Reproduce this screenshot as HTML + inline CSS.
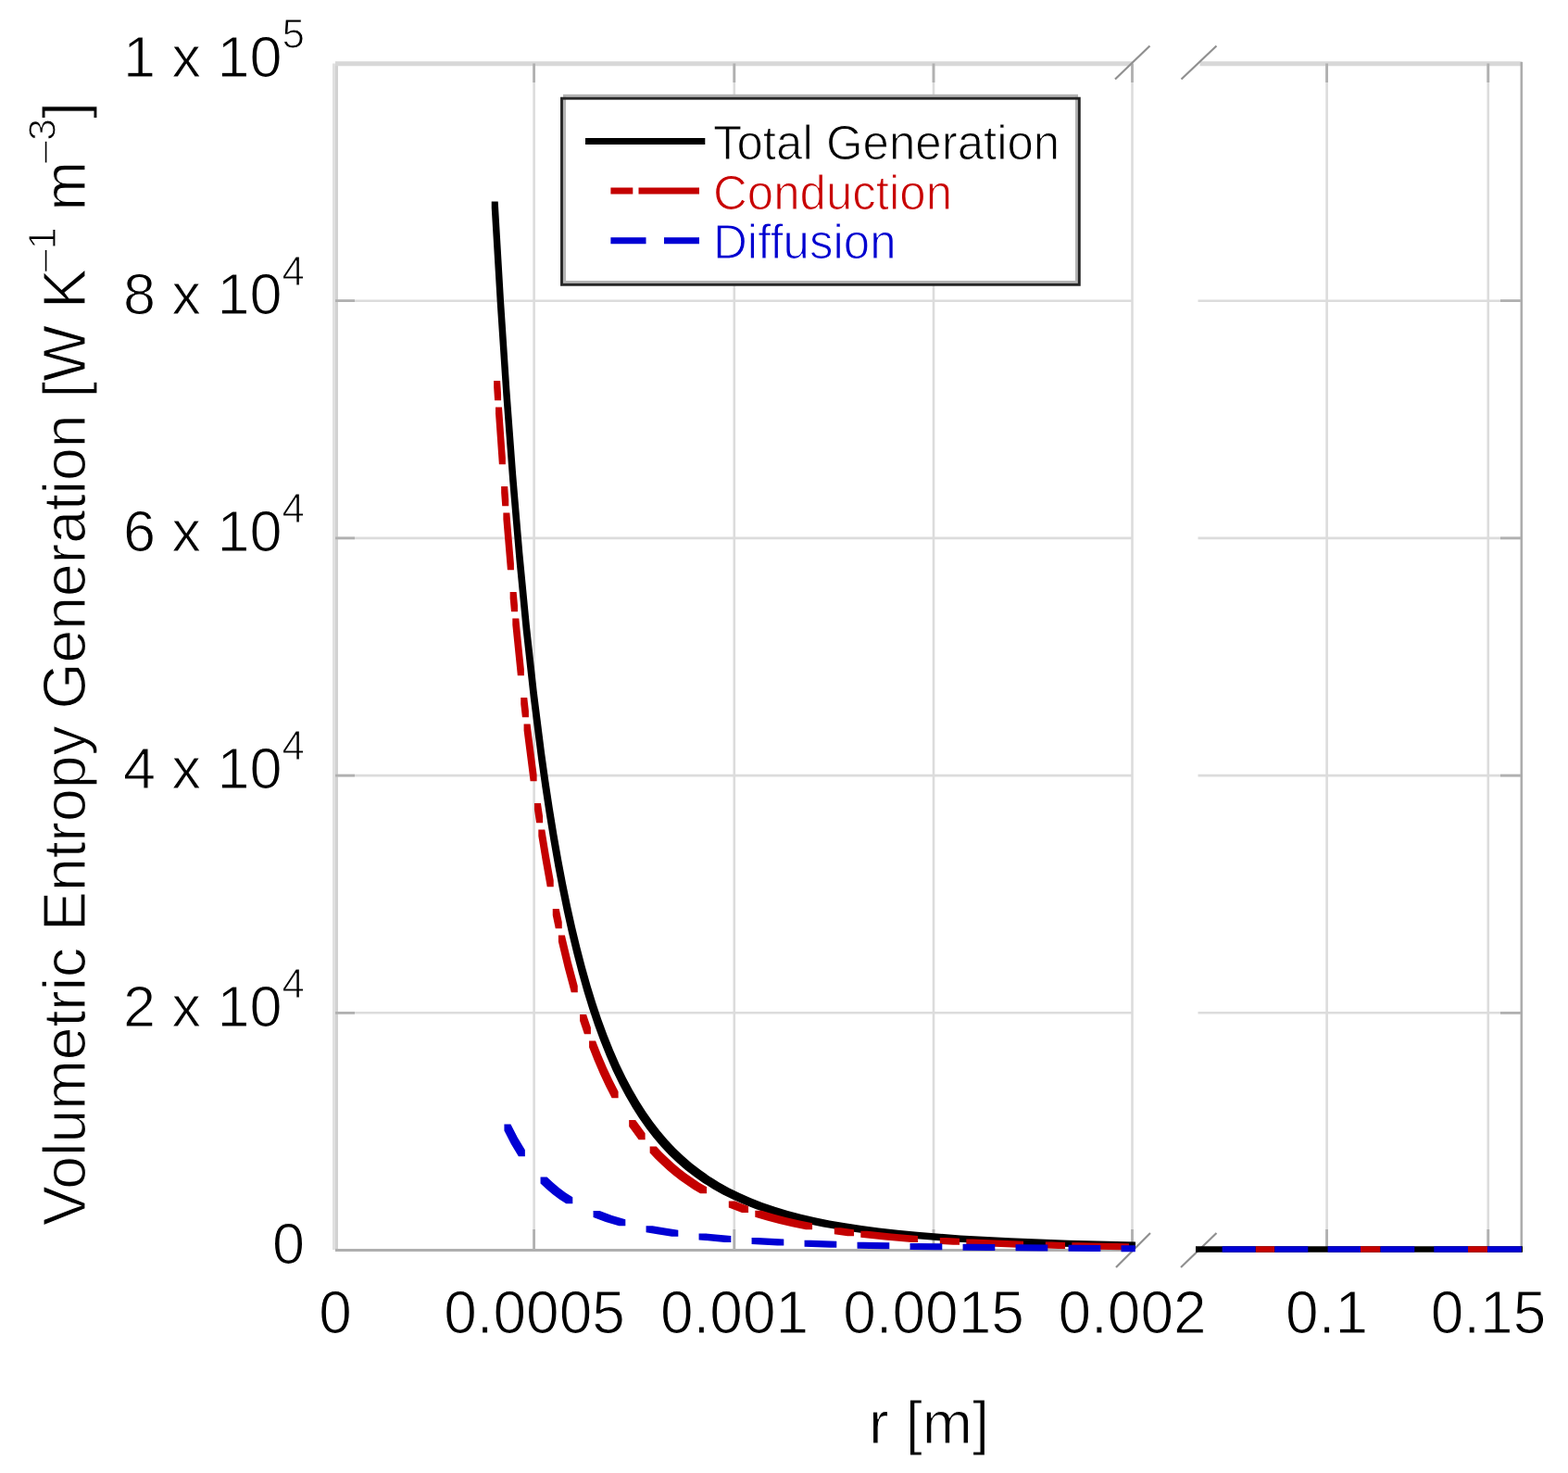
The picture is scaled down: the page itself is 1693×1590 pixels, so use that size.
<!DOCTYPE html>
<html><head><meta charset="utf-8"><title>Volumetric Entropy Generation</title>
<style>
html,body{margin:0;padding:0;background:#fff;}
body{width:1693px;height:1590px;overflow:hidden;}
svg{display:block;}
text{font-family:"Liberation Sans",Arial,Helvetica,sans-serif;fill:#000;stroke:#fff;stroke-width:1.1px;}
</style></head>
<body>
<svg width="1693" height="1590" viewBox="0 0 1693 1590">
<rect width="1693" height="1590" fill="#fff"/>
<!-- gridlines -->
<g stroke="#dcdcdc" stroke-width="2.6" fill="none">
<path d="M362,324.7H1222.5M362,580.9H1222.5M362,837.1H1222.5M362,1093.3H1222.5"/>
<path d="M1293.5,324.7H1643M1293.5,580.9H1643M1293.5,837.1H1643M1293.5,1093.3H1643"/>
<path d="M576.6,68.5V1349M792.8,68.5V1349M1008,68.5V1349M1222.5,68.5V1349"/>
<path d="M1432.6,68.5V1349M1606.8,68.5V1349"/>
</g>
<!-- frame -->
<path d="M360.5,68.5V1349" stroke="#e0e0e0" stroke-width="3" fill="none"/>
<path d="M363.5,68.5V1349" stroke="#d2d2d2" stroke-width="3" fill="none"/>
<path d="M362,68.8H1222.5M1295.5,68.8H1643.5" stroke="#d8d8d8" stroke-width="5" fill="none"/>
<path d="M362,1349.5H1222.5" stroke="#afafaf" stroke-width="3" fill="none"/>
<path d="M1642.8,67V1349" stroke="#acacac" stroke-width="2.6" fill="none"/>
<!-- ticks -->
<g stroke="#b0b0b0" stroke-width="2.8" fill="none">
<path d="M362,324.7H383M362,580.9H383M362,837.1H383M362,1093.3H383"/>
<path d="M1642,324.7H1620M1642,580.9H1620M1642,837.1H1620M1642,1093.3H1620"/>
<path d="M576.6,1349V1327M792.8,1349V1327M1008,1349V1327M1222.5,1349V1327M1432.6,1349V1327M1606.8,1349V1327"/>
<path d="M576.6,68.5V89M792.8,68.5V89M1008,68.5V89M1222.5,68.5V89M1432.6,68.5V89M1606.8,68.5V89"/>
</g>
<!-- break marks -->
<g stroke="#909090" stroke-width="2.2" fill="none">
<path d="M1204,85.5L1241.5,49.5M1275.5,85.5L1313.5,49.5"/>
<path d="M1205,1368L1242,1331M1275,1368L1313.5,1331"/>
</g>
<!-- curves -->
<path d="M530.73,224.50 530.73,217.50 537.73,217.50 543.94,323.19 550.37,420.59 557.24,512.70 564.37,596.93 571.76,673.75 579.65,745.59 588.09,812.38 592.43,843.23 596.85,872.49 601.37,900.22 606.23,927.90 610.92,952.68 615.98,977.39 621.14,1000.68 626.40,1022.61 631.78,1043.26 637.55,1063.68 643.16,1081.89 649.18,1099.88 655.34,1116.72 661.94,1133.24 668.70,1148.64 675.61,1162.99 682.68,1176.35 690.26,1189.35 697.30,1200.34 704.86,1211.08 712.60,1221.07 720.89,1230.77 729.38,1239.74 738.08,1248.04 746.98,1255.70 756.51,1263.09 766.28,1269.89 776.74,1276.41 787.47,1282.38 798.94,1288.06 810.73,1293.24 823.33,1298.14 836.79,1302.75 850.64,1306.92 864.90,1310.69 880.14,1314.21 895.84,1317.38 912.60,1320.33 930.50,1323.05 948.99,1325.48 969.38,1327.79 990.47,1329.83 1037.07,1333.38 1091.01,1336.30 1153.51,1338.66 1226.00,1340.52 1226.00,1347.52 1219.00,1347.52 1146.51,1345.66 1084.01,1343.30 1030.07,1340.38 983.47,1336.83 962.38,1334.79 941.99,1332.48 923.50,1330.05 905.60,1327.33 888.84,1324.38 873.14,1321.21 857.90,1317.69 843.64,1313.92 829.79,1309.75 816.33,1305.14 803.73,1300.24 791.94,1295.06 780.47,1289.38 769.74,1283.41 759.28,1276.89 749.51,1270.09 739.98,1262.70 731.08,1255.04 722.38,1246.74 713.89,1237.77 705.60,1228.07 697.86,1218.08 690.30,1207.34 683.26,1196.35 675.68,1183.35 668.61,1169.99 661.70,1155.64 654.94,1140.24 648.34,1123.72 642.18,1106.88 636.16,1088.89 630.55,1070.68 624.78,1050.26 619.40,1029.61 614.14,1007.68 608.98,984.39 603.92,959.68 599.23,934.90 594.37,907.22 589.85,879.49 585.43,850.23 581.09,819.38 572.65,752.59 564.76,680.75 557.37,603.93 550.24,519.70 543.37,427.59 536.94,330.19 530.73,224.50Z" fill="#000"/>
<path d="M533.13,418.00 533.13,411.00 540.13,411.00 541.07,425.25 541.07,432.25 534.07,432.25 533.13,418.00ZM535.02,446.50 535.02,439.50 542.02,439.50 545.86,494.25 545.86,501.25 538.86,501.25 535.02,446.50ZM541.15,532.00 541.15,525.00 548.15,525.00 549.24,539.25 549.24,546.25 542.24,546.25 541.15,532.00ZM543.36,560.50 543.36,553.50 550.36,553.50 554.91,608.25 554.91,615.25 547.91,615.25 543.36,560.50ZM550.65,646.00 550.65,639.00 557.65,639.00 558.97,653.25 558.97,660.25 551.97,660.25 550.65,646.00ZM553.32,674.50 553.32,667.50 560.32,667.50 565.86,722.25 565.86,729.25 558.86,729.25 553.32,674.50ZM562.25,760.00 562.25,753.00 569.25,753.00 570.89,767.25 570.89,774.25 563.89,774.25 562.25,760.00ZM565.58,788.50 565.58,781.50 572.58,781.50 579.60,836.25 579.60,843.25 572.60,843.25 565.58,788.50ZM576.96,874.00 576.96,867.00 583.96,867.00 586.10,881.25 586.10,888.25 579.10,888.25 576.96,874.00ZM581.32,902.50 581.32,895.50 588.32,895.50 592.86,923.00 597.73,950.25 597.73,957.25 590.73,957.25 585.86,930.00 581.32,902.50ZM596.75,988.00 596.75,981.00 603.75,981.00 606.75,995.25 606.75,1002.25 599.75,1002.25 596.75,988.00ZM602.91,1016.50 602.91,1009.50 609.91,1009.50 616.74,1038.00 623.76,1064.25 623.76,1071.25 616.76,1071.25 609.74,1045.00 602.91,1016.50ZM626.09,1102.00 626.09,1095.00 633.09,1095.00 637.90,1109.25 637.90,1116.25 630.90,1116.25 626.09,1102.00ZM636.08,1130.50 636.08,1123.50 643.08,1123.50 648.89,1138.25 655.00,1152.50 661.21,1165.75 667.60,1178.25 667.60,1185.25 660.60,1185.25 654.21,1172.75 648.00,1159.50 641.89,1145.25 636.08,1130.50ZM679.17,1216.00 679.17,1209.00 686.17,1209.00 696.61,1223.25 696.61,1230.25 689.61,1230.25 679.17,1216.00ZM701.66,1244.50 701.66,1237.50 708.66,1237.50 714.82,1244.00 721.06,1250.10 727.56,1255.99 734.06,1261.44 740.81,1266.67 748.06,1271.86 755.31,1276.63 763.06,1281.33 763.06,1288.33 756.06,1288.33 748.31,1283.63 741.06,1278.86 733.81,1273.67 727.06,1268.44 720.56,1262.99 714.06,1257.10 707.82,1251.00 701.66,1244.50ZM786.81,1303.50 786.81,1296.50 793.81,1296.50 808.06,1302.03 808.06,1309.03 801.06,1309.03 786.81,1303.50ZM815.31,1313.82 815.31,1306.82 822.31,1306.82 835.06,1310.58 848.31,1314.02 862.31,1317.22 877.06,1320.18 877.06,1327.18 870.06,1327.18 855.31,1324.22 841.31,1321.02 828.06,1317.58 815.31,1313.82ZM900.81,1332.23 900.81,1325.23 907.81,1325.23 922.06,1327.15 922.06,1334.15 915.06,1334.15 900.81,1332.23ZM929.31,1335.86 929.31,1328.86 936.31,1328.86 962.31,1331.52 991.06,1333.89 991.06,1340.89 984.06,1340.89 955.31,1338.52 929.31,1335.86ZM1014.81,1342.92 1014.81,1335.92 1021.81,1335.92 1036.06,1336.71 1036.06,1343.71 1029.06,1343.71 1014.81,1342.92ZM1043.31,1344.43 1043.31,1337.43 1050.31,1337.43 1105.06,1339.64 1105.06,1346.64 1098.06,1346.64 1043.31,1344.43ZM1128.81,1347.57 1128.81,1340.57 1135.81,1340.57 1150.06,1340.94 1150.06,1347.94 1143.06,1347.94 1128.81,1347.57ZM1157.31,1348.28 1157.31,1341.28 1164.31,1341.28 1219.06,1342.36 1219.06,1349.36 1212.06,1349.36 1157.31,1348.28Z" fill="#c40000"/>
<path d="M544.43,1220.50 544.43,1213.50 551.43,1213.50 558.89,1228.00 566.87,1241.25 566.87,1248.25 559.87,1248.25 551.89,1235.00 544.43,1220.50ZM583.56,1277.49 583.56,1270.49 590.56,1270.49 597.06,1276.56 603.81,1282.18 610.81,1287.38 618.31,1292.33 618.31,1299.33 611.31,1299.33 603.81,1294.38 596.81,1289.18 590.06,1283.56 583.56,1277.49ZM640.56,1314.04 640.56,1307.04 647.56,1307.04 660.81,1311.92 675.31,1316.35 675.31,1323.35 668.31,1323.35 653.81,1318.92 640.56,1314.04ZM697.56,1330.17 697.56,1323.17 704.56,1323.17 718.06,1325.60 732.31,1327.80 732.31,1334.80 725.31,1334.80 711.06,1332.60 697.56,1330.17ZM754.56,1338.38 754.56,1331.38 761.56,1331.38 789.31,1333.94 789.31,1340.94 782.31,1340.94 754.56,1338.38ZM811.56,1343.02 811.56,1336.02 818.56,1336.02 846.31,1337.55 846.31,1344.55 839.31,1344.55 811.56,1343.02ZM868.56,1345.83 868.56,1338.83 875.56,1338.83 903.31,1339.81 903.31,1346.81 896.31,1346.81 868.56,1345.83ZM925.56,1347.65 925.56,1340.65 932.56,1340.65 960.31,1341.30 960.31,1348.30 953.31,1348.30 925.56,1347.65ZM982.56,1348.88 982.56,1341.88 989.56,1341.88 1017.31,1342.33 1017.31,1349.33 1010.31,1349.33 982.56,1348.88ZM1039.56,1349.74 1039.56,1342.74 1046.56,1342.74 1074.31,1343.07 1074.31,1350.07 1067.31,1350.07 1039.56,1349.74ZM1096.56,1350.36 1096.56,1343.36 1103.56,1343.36 1131.31,1343.61 1131.31,1350.61 1124.31,1350.61 1096.56,1350.36ZM1153.56,1350.83 1153.56,1343.83 1160.56,1343.83 1188.31,1344.01 1188.31,1351.01 1181.31,1351.01 1153.56,1350.83ZM1210.56,1351.18 1210.56,1344.18 1217.56,1344.18 1225.81,1344.23 1225.81,1351.23 1218.81,1351.23 1210.56,1351.18Z" fill="#0000d4"/>
<!-- right panel data line -->
<g stroke-width="6.5" fill="none">
<path d="M1291,1348.5H1644" stroke="#000"/>
<path d="M1355.6,1348.5H1376.3M1469,1348.5H1490.5M1585,1348.5H1606" stroke="#c40000"/>
<path d="M1319.6,1348.5H1355.6M1376.3,1348.5H1412.3M1433.6,1348.5H1469M1490.5,1348.5H1527.3M1548.3,1348.5H1585M1606,1348.5H1643" stroke="#0000d4"/>
</g>
<!-- legend -->
<rect x="609.5" y="103.3" width="553" height="201.2" fill="#fff" stroke="#b4b4b4" stroke-width="3"/>
<rect x="606.5" y="106.2" width="558.8" height="201.1" fill="none" stroke="#262626" stroke-width="2.9"/>
<path d="M632,152.6H761.3" stroke="#000" stroke-width="7"/>
<path d="M659.4,206.1H683.3M689.5,206.1H755" stroke="#c40000" stroke-width="7"/>
<path d="M659.4,259.8H697.5M717,259.8H755" stroke="#0000d4" stroke-width="7"/>
<g font-size="51">
<text x="770" y="171.6">Total Generation</text>
<text x="770" y="225.5" style="fill:#c80000">Conduction</text>
<text x="770" y="278.6" style="fill:#0000d0">Diffusion</text>
</g>
<!-- y tick labels -->
<g font-size="63" text-anchor="end">
<text x="329" y="83.3">1 x 10<tspan dy="-31" font-size="44">5</tspan></text>
<text x="329" y="338.9">8 x 10<tspan dy="-31" font-size="44">4</tspan></text>
<text x="329" y="595.1">6 x 10<tspan dy="-31" font-size="44">4</tspan></text>
<text x="329" y="851.3">4 x 10<tspan dy="-31" font-size="44">4</tspan></text>
<text x="329" y="1107.5">2 x 10<tspan dy="-31" font-size="44">4</tspan></text>
<text x="329" y="1363.7">0</text>
</g>
<!-- x tick labels -->
<g font-size="64" text-anchor="middle">
<text x="362" y="1438.5">0</text>
<text x="577" y="1438.5">0.0005</text>
<text x="793" y="1438.5">0.001</text>
<text x="1008" y="1438.5">0.0015</text>
<text x="1222.5" y="1438.5">0.002</text>
<text x="1432.6" y="1438.5">0.1</text>
<text x="1607" y="1438.5">0.15</text>
</g>
<!-- axis titles -->
<text x="1003" y="1558.3" font-size="65" text-anchor="middle">r [m]</text>
<text transform="translate(92,1323) rotate(-90)" font-size="64.3"><tspan>Volumetric Entropy Generation [W K</tspan><tspan dx="-3" dy="-32" font-size="43">&#8211;1</tspan><tspan dy="32"> m</tspan><tspan dx="-2" dy="-32" font-size="43">&#8211;3</tspan><tspan dy="32">]</tspan></text>
</svg>
</body></html>
